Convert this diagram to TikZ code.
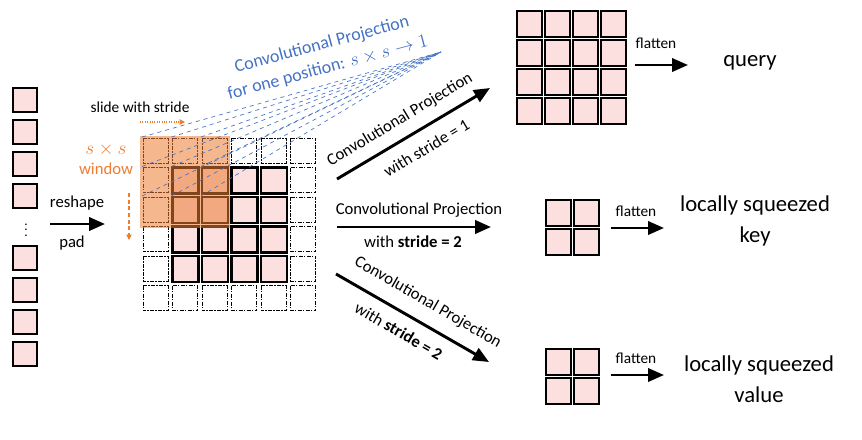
\documentclass[tikz,border=0pt]{standalone}
\usepackage{fontspec}
\setmainfont{Carlito}
\usetikzlibrary{arrows.meta}
\definecolor{pk}{HTML}{FCE0E0}
\definecolor{bl}{HTML}{4472C4}
\definecolor{og}{HTML}{ED7D31}
\begin{document}
\begin{tikzpicture}[x=0.75pt,y=-0.75pt,
 cell/.style={draw=black,line width=2.2pt,fill=pk},
 pcell/.style={draw=black,line width=0.6pt,dash pattern=on 3pt off 1pt on 1pt off 1pt},
 big/.style={-{Triangle[length=12pt,width=10pt]},line width=2.2pt},
 lbl/.style={font=\fontsize{12.5}{13}\selectfont},
 sm/.style={font=\fontsize{11.5}{12}\selectfont}]
\useasboundingbox (0,0) rectangle (862,439);
% left column
\foreach \y in {88,120,152,184,246,278,310,342} \draw[cell] (13,\y) rectangle ++(24,24);
\node[inner sep=0pt] (dots) at (26,226) {$\vdots$};
\node[lbl] (reshape) at (77,203) {reshape};
\node[lbl] (pad) at (72,243) {pad};
\coordinate (ra) at (50,224); \coordinate (rb) at (105,224);
\draw[big] (ra) -- (rb);
% grid
\foreach \i in {0,...,5} \foreach \j in {0,...,5}{
  \pgfmathsetmacro\xx{143+29.5*\i}\pgfmathsetmacro\yy{138+29.5*\j}
  \draw[pcell] (\xx,\yy) rectangle ++(25,25);}
\foreach \i in {1,...,4} \foreach \j in {1,...,4}{
  \pgfmathsetmacro\xx{143+29.5*\i}\pgfmathsetmacro\yy{138+29.5*\j}
  \draw[cell] (\xx,\yy) rectangle ++(26,26);}
\fill[og,opacity=0.55] (140,136) rectangle (230,228);
% blue lines
\coordinate (apex) at (441,52);
\foreach \i in {0,1,2} \foreach \j in {0,1,2}{
  \pgfmathsetmacro\xx{142+29.5*\i}\pgfmathsetmacro\yy{137+29.5*\j}
  \draw[bl,dashed,line width=0.5pt] (\xx,\yy) -- (apex);}
\node[bl,font=\fontsize{13.5}{14}\selectfont,rotate=15] (bt1) at (322,45) {Convolutional Projection};
\node[bl,font=\fontsize{13.5}{14}\selectfont,rotate=15] (bt2) at (328,68) {for one position: $s\times s\rightarrow 1$};
% orange annotations
\node[sm] (slide) at (140,107) {slide with stride};
\coordinate (s1) at (140,122); \coordinate (s2) at (185,122);
\draw[og,densely dotted,-{Triangle[length=4pt,width=4pt]},line width=0.8pt] (s1) -- (s2);
\node[og,font=\fontsize{13.5}{14}\selectfont] (ss) at (106,150) {$s\times s$};
\node[og,lbl] (win) at (106,169) {window};
\coordinate (d1) at (129,193); \coordinate (d2) at (129,240);
\draw[og,densely dashed,-{Triangle[length=4pt,width=4pt]},line width=0.8pt] (d1) -- (d2);
% projection arrows
\coordinate (a1) at (337,179); \coordinate (b1) at (490,88);
\draw[big] (a1) -- (b1);
\node[lbl,rotate=31,anchor=south] (t1) at (406,130) {Convolutional Projection};
\node[lbl,rotate=31,anchor=north] (t1b) at (421,139) {with stride = 1};
\coordinate (a2) at (337,227); \coordinate (b2) at (491,227);
\draw[big] (a2) -- (b2);
\node[lbl,anchor=south] (t2) at (419,222) {Convolutional Projection};
\node[lbl,anchor=north] (t2b) at (413,231) {with \textbf{stride = 2}};
\coordinate (a3) at (336,274); \coordinate (b3) at (489,362);
\draw[big] (a3) -- (b3);
\node[lbl,rotate=-30,anchor=south] (t3) at (422,313) {Convolutional Projection};
\node[lbl,rotate=-30,anchor=north] (t3b) at (404,322) {with \textbf{stride = 2}};
% query grid
\foreach \i in {0,...,3} \foreach \j in {0,...,3}{
  \pgfmathsetmacro\xx{517+28*\i}\pgfmathsetmacro\yy{11+29*\j}
  \draw[cell] (\xx,\yy) rectangle ++(25,26);}
\foreach \yo in {200,349} \foreach \i in {0,1} \foreach \j in {0,1}{
  \pgfmathsetmacro\xx{546+28*\i}\pgfmathsetmacro\yy{\yo+29*\j}
  \draw[cell] (\xx,\yy) rectangle ++(25,26);}
% flatten
\node[sm] (f1) at (656,43) {flatten};
\coordinate (fa1) at (635,65); \coordinate (fb1) at (688,65);
\draw[big,line width=2pt] (fa1) -- (fb1);
\node[font=\fontsize{17}{18}\selectfont] (q) at (750,63) {query};
\node[sm] (f2) at (636,211) {flatten};
\coordinate (fa2) at (611,228); \coordinate (fb2) at (664,228);
\draw[big,line width=2pt] (fa2) -- (fb2);
\node[font=\fontsize{17}{23}\selectfont,align=center] (k) at (755,221) {locally squeezed\\key};
\node[sm] (f3) at (636,358) {flatten};
\coordinate (fa3) at (611,375); \coordinate (fb3) at (664,375);
\draw[big,line width=2pt] (fa3) -- (fb3);
\node[font=\fontsize{17}{23}\selectfont,align=center] (v) at (759,379) {locally squeezed\\value};
\end{tikzpicture}
\end{document}
